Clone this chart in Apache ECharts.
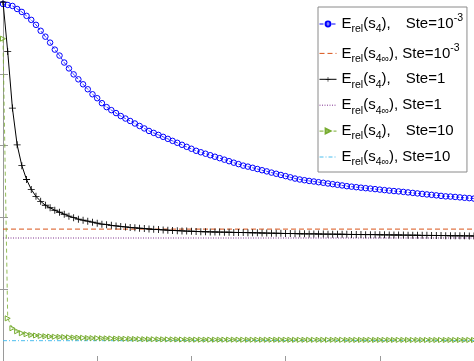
<!DOCTYPE html>
<html>
<head>
<meta charset="utf-8">
<script src="https://cdn.jsdelivr.net/npm/echarts@6/dist/echarts.min.js"></script>
<style>html,body{margin:0;padding:0;background:#fff}#c{width:474px;height:361px}</style>
</head>
<body>
<div id="c"></div>
<script>
// Sample grid step (x axis 0..5)
const xStep = 0.05;
const xTicks = [0, 1, 2, 3, 4, 5];
const yTicks = [0, 1, 2, 3, 4, 5];

// E_rel(s4), Ste = 1e-3
const s4Ste1e3 = [4.972,4.959,4.945,4.903,4.862,4.807,4.751,4.682,4.599,4.517,
4.434,4.337,4.254,4.157,4.075,3.992,3.923,3.854,3.785,3.715,
3.660,3.591,3.536,3.494,3.453,3.412,3.377,3.343,3.308,3.273,
3.239,3.204,3.177,3.149,3.122,3.094,3.066,3.039,3.011,2.983,
2.956,2.928,2.907,2.887,2.866,2.845,2.825,2.804,2.783,2.762,
2.742,2.721,2.707,2.691,2.674,2.657,2.641,2.624,2.608,2.591,
2.575,2.558,2.541,2.528,2.518,2.508,2.500,2.490,2.482,2.472,
2.463,2.454,2.445,2.435,2.428,2.421,2.414,2.407,2.401,2.394,
2.387,2.380,2.373,2.367,2.362,2.355,2.348,2.341,2.334,2.327,
2.320,2.314,2.307,2.300,2.293,2.290,2.285,2.279,2.273,2.268,2.262];

// E_rel(s4), Ste = 1
const s4Ste1 = [5.000,4.309,3.522,3.011,2.721,2.528,2.390,2.293,2.224,2.169,
2.134,2.099,2.072,2.044,2.017,1.996,1.975,1.961,1.948,1.934,
1.920,1.906,1.899,1.890,1.881,1.874,1.867,1.860,1.855,1.849,
1.844,1.838,1.834,1.830,1.826,1.822,1.818,1.815,1.812,1.809,
1.807,1.804,1.801,1.800,1.798,1.797,1.796,1.794,1.793,1.791,
1.790,1.789,1.787,1.786,1.785,1.783,1.782,1.780,1.779,1.778,
1.776,1.775,1.774,1.772,1.771,1.770,1.770,1.769,1.768,1.767,
1.766,1.765,1.765,1.764,1.763,1.762,1.761,1.760,1.760,1.759,
1.758,1.757,1.756,1.755,1.755,1.754,1.753,1.752,1.751,1.750,
1.750,1.749,1.748,1.747,1.746,1.745,1.745,1.744,1.743,1.742,1.741];

// E_rel(s4), Ste = 10
const s4Ste10 = [4.489,0.594,0.456,0.414,0.387,0.373,0.362,0.355,0.349,0.345,
0.341,0.338,0.336,0.333,0.330,0.327,0.325,0.323,0.320,0.319,
0.318,0.316,0.315,0.314,0.312,0.311,0.309,0.308,0.307,0.305,
0.304,0.303,0.303,0.302,0.302,0.301,0.301,0.300,0.299,0.299,
0.298,0.297,0.297,0.297,0.297,0.297,0.297,0.297,0.297,0.297,
0.297,0.296,0.296,0.296,0.296,0.296,0.296,0.296,0.296,0.296,
0.296,0.295,0.295,0.295,0.295,0.295,0.295,0.295,0.295,0.295,
0.295,0.295,0.295,0.294,0.294,0.294,0.294,0.294,0.294,0.294,
0.294,0.294,0.294,0.294,0.294,0.294,0.294,0.293,0.293,0.293,
0.293,0.293,0.293,0.293,0.293,0.293,0.293,0.293,0.293,0.293,0.293];

// Asymptotic values E_rel(s4inf)
const sInfSte1e3 = 1.837;
const sInfSte1 = 1.713;
const sInfSte10 = 0.283;

const names = ['n1','n2','n3','n4','n5','n6'];
const legendRich = {
  n1: '{b|E}{s|rel}{b|(s}{s|4}{b|),}{g|\u00a0}{b|Ste=10}{p|-3}',
  n2: '{b|E}{s|rel}{b|(s}{s|4\u221e}{b|), Ste=10}{p|-3}',
  n3: '{b|E}{s|rel}{b|(s}{s|4}{b|),}{g|\u00a0}{b|Ste=1}',
  n4: '{b|E}{s|rel}{b|(s}{s|4\u221e}{b|), Ste=1}',
  n5: '{b|E}{s|rel}{b|(s}{s|4}{b|),}{g|\u00a0}{b|Ste=10}',
  n6: '{b|E}{s|rel}{b|(s}{s|4\u221e}{b|), Ste=10}'
};

const pairs = arr => arr.map((v, i) => [i * xStep, v]);
const flat = v => [[xTicks[0], v], [xTicks[xTicks.length - 1], v]];

const FONT = 'Liberation Sans';
const plus = 'path://M4.4,0H5.6V4.4H10V5.6H5.6V10H4.4V5.6H0V4.4H4.4Z';
const tri = 'path://M0,0L10,5L0,10Z';
const axisCol = '#9a9a9a';
const clear = 'rgba(0,0,0,0)';

const chart = echarts.init(document.getElementById('c'), null, {renderer: 'canvas'});
const baseAxis = {
  type: 'value', min: 0, max: 5, interval: 1,
  axisLine: {show: true, lineStyle: {color: axisCol, width: 1}},
  axisTick: {show: true, inside: true, length: 5, lineStyle: {color: axisCol}},
  axisLabel: {show: false},
  splitLine: {show: false}
};
const hline = (name, v, color, type) => ({
  name, type: 'line', data: flat(v), symbol: 'circle', showSymbol: false, symbolSize: 0,
  lineStyle: {color, width: 1, type},
  itemStyle: {color: clear, borderColor: clear, borderWidth: 0}
});
chart.setOption({
  animation: false,
  backgroundColor: '#fff',
  grid: {left: 3, top: 2, width: 473, height: 361},
  xAxis: [
    Object.assign({}, baseAxis, {position: 'bottom'}),
    Object.assign({}, baseAxis, {position: 'top'})
  ],
  yAxis: [
    Object.assign({}, baseAxis, {position: 'left'}),
    Object.assign({}, baseAxis, {position: 'right'})
  ],
  legend: {
    orient: 'vertical', left: 318, top: 7,
    padding: [6, 4, 4, 1],
    itemGap: 7.4, itemWidth: 17, itemHeight: 6,
    backgroundColor: '#fff', borderColor: '#8a8a8a', borderWidth: 1,
    lineStyle: {width: 1},
    data: names,
    formatter: n => legendRich[n],
    textStyle: {
      fontFamily: FONT,
      rich: {
        b: {fontSize: 15, fontFamily: FONT, color: '#000', lineHeight: 22},
        s: {fontSize: 10.5, fontFamily: FONT, color: '#000', lineHeight: 12, verticalAlign: 'bottom'},
        p: {fontSize: 10.5, fontFamily: FONT, color: '#000', lineHeight: 12, verticalAlign: 'top'},
        g: {fontSize: 15, fontFamily: FONT, width: 15, lineHeight: 22}
      }
    }
  },
  series: [
    {name: 'n1', type: 'line', data: pairs(s4Ste1e3), symbol: 'circle', symbolSize: 5.5,
     lineStyle: {color: '#0000ff', width: 0.8, type: 'dashed'},
     itemStyle: {color: clear, borderColor: '#0000ff', borderWidth: 1}, z: 3},
    hline('n2', sInfSte1e3, '#D95319', [5, 3]),
    {name: 'n3', type: 'line', data: pairs(s4Ste1), symbol: plus, symbolSize: 7,
     lineStyle: {color: '#000', width: 1}, itemStyle: {color: '#000'}, z: 4},
    hline('n4', sInfSte1, '#7E2F8E', [1, 1.5]),
    {name: 'n5', type: 'line', data: pairs(s4Ste10), symbol: tri, symbolSize: 5,
     lineStyle: {color: '#77AC30', width: 0.8, type: [4, 3]},
     itemStyle: {color: clear, borderColor: '#77AC30', borderWidth: 1}, z: 3},
    hline('n6', sInfSte10, '#4DBEEE', [4, 2, 1, 2])
  ]
});
</script>
</body>
</html>
